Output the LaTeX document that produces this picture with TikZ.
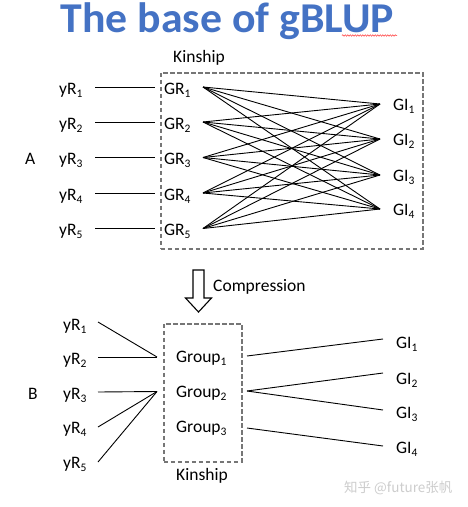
\documentclass[tikz,border=0pt]{standalone}
\usepackage{fontspec}
\setmainfont{Carlito}
\newfontfamily\cjk{Noto Sans CJK SC}
\usetikzlibrary{decorations.pathmorphing}
\definecolor{titleblue}{RGB}{68,114,196}
\definecolor{boxgray}{RGB}{118,118,118}
\definecolor{wmgray}{RGB}{205,205,205}
\newcommand\sbs[1]{\raisebox{-0.18em}{\fontsize{11.5}{13}\selectfont #1}}
\tikzset{
  lbl/.style={inner sep=0pt, anchor=base west, font=\fontsize{17.5}{21}\selectfont},
  dbox/.style={draw=boxgray, line width=1.6pt, dash pattern=on 4.5pt off 2.5pt, inner sep=0pt, anchor=north west},
  conn/.style={draw=black, line width=0.9pt},
}
\begin{document}
\begin{tikzpicture}[x=1pt,y=-1pt]
\useasboundingbox (0,0) rectangle (467,507);
\fill[white] (0,0) rectangle (467,507);

% title
\node[inner sep=0pt, anchor=base, text=titleblue, font=\fontsize{42.5}{50}\selectfont\bfseries, xscale=1.03] (title) at (227.5,32) {The base of gBLUP};
\draw[red!80, line width=0.5pt, decorate, decoration={snake, amplitude=0.7pt, segment length=2.5pt}] (342,35.5) -- (397,35.5);

% ---------- part A ----------
\node[dbox, minimum width=262pt, minimum height=176pt] (boxA) at (160,72) {};
\node[lbl, anchor=base] (kinA) at (199,62) {Kinship};
\node[lbl] (labA) at (25,164.5) {A};

\foreach \i/\ly/\by in {1/87/94, 2/122/129, 3/157.5/164.5, 4/193/200, 5/228.5/235.5}{
  \node[lbl] (yRA\i) at (59,\by) {yR\sbs{\i}};
  \node[lbl] (GRA\i) at (164,\by) {GR\sbs{\i}};
  \coordinate (yRAe\i) at (95,\ly);
  \coordinate (GRAw\i) at (155,\ly);
  \coordinate (GRAe\i) at (203,\ly);
  \draw[conn] (yRAe\i) -- (GRAw\i);
}
\foreach \j/\ly/\by in {1/104/110, 2/139/145, 3/175/181, 4/209/215}{
  \node[lbl] (GIA\j) at (393,\by) {GI\sbs{\j}};
  \coordinate (GIAw\j) at (380,\ly);
}
\foreach \i in {1,...,5}{
  \foreach \j in {1,...,4}{
    \draw[conn] (GRAe\i) -- (GIAw\j);
  }
}

% ---------- compression arrow ----------
\draw[black, line width=1.1pt, line join=miter] (193,270) -- (204,270) -- (204,298) -- (211.5,298) -- (198.5,312) -- (185.5,298) -- (193,298) -- cycle;
\node[lbl] (comp) at (213,291) {Compression};

% ---------- part B ----------
\node[dbox, minimum width=78pt, minimum height=138pt] (boxB) at (163,323) {};
\node[lbl, anchor=base] (kinB) at (202,480) {Kinship};
\node[lbl] (labB) at (28,399) {B};

\foreach \i/\ly/\by in {1/322/330, 2/357/364.5, 3/392/399, 4/427/433.5, 5/462/468}{
  \node[lbl] (yRB\i) at (63,\by) {yR\sbs{\i}};
  \coordinate (yRBe\i) at (98,\ly);
}
\foreach \k/\by in {1/362, 2/397, 3/432.5}{
  \node[lbl] (grp\k) at (176,\by) {Group\sbs{\k}};
}
\coordinate (inG1) at (157,357);
\coordinate (inG2) at (157,391.5);
\draw[conn] (yRBe1) -- (inG1);
\draw[conn] (yRBe2) -- (inG1);
\draw[conn] (yRBe3) -- (inG2);
\draw[conn] (yRBe4) -- (inG2);
\draw[conn] (yRBe5) -- (inG2);

\foreach \j/\ly/\by in {1/339/348, 2/373/384, 3/410/418, 4/446/453}{
  \node[lbl] (GIB\j) at (396,\by) {GI\sbs{\j}};
  \coordinate (GIBw\j) at (383,\ly);
}
\coordinate (outG1) at (247,356);
\coordinate (outG2) at (247,391);
\coordinate (outG3) at (247,428);
\draw[conn] (outG1) -- (GIBw1);
\draw[conn] (outG2) -- (GIBw2);
\draw[conn] (outG2) -- (GIBw3);
\draw[conn] (outG3) -- (GIBw4);

% watermark
\node[inner sep=0pt, anchor=west, text=wmgray, font=\cjk\fontsize{13.5}{16}\selectfont] (wm) at (344,488) {知乎 @future张帆};
\end{tikzpicture}
\end{document}
